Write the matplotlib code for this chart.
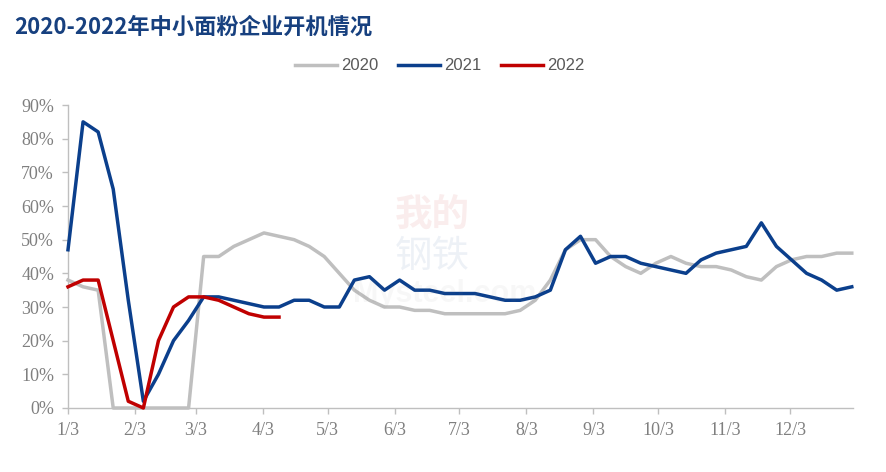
import matplotlib
matplotlib.use("Agg")
import matplotlib.pyplot as plt
import numpy as np

# Weekly data (percent)
values_2020 = [38, 36, 35, 0, 0, 0, 0, 0, 0, 45, 45, 48, 50, 52, 51, 50, 48, 45, 40, 35,
               32, 30, 30, 29, 29, 28, 28, 28, 28, 28, 29, 32, 38, 47, 50, 50, 45, 42, 40, 43,
               45, 43, 42, 42, 41, 39, 38, 42, 44, 45, 45, 46, 46]
values_2021 = [47, 85, 82, 65, 32, 2, 10, 20, 26, 33, 33, 32, 31, 30, 30, 32, 32, 30, 30, 38,
               39, 35, 38, 35, 35, 34, 34, 34, 33, 32, 32, 33, 35, 47, 51, 43, 45, 45, 43, 42,
               41, 40, 44, 46, 47, 48, 55, 48, 44, 40, 38, 35, 36]
values_2022 = [36, 38, 38, 20, 2, 0, 20, 30, 33, 33, 32, 30, 28, 27, 27]

series_names = ["2020", "2021", "2022"]
tick_labels = ["1/3", "2/3", "3/3", "4/3", "5/3", "6/3", "7/3", "8/3", "9/3", "10/3", "11/3", "12/3"]
tick_days = [0, 31, 59, 90, 120, 151, 181, 212, 243, 273, 304, 334]
y_ticks = list(range(0, 91, 10))

colors = ["#BFBFBF", "#0B3F8C", "#C00000"]
title = "2020-2022年中小面粉企业开机情况"

fig = plt.figure(figsize=(8.86, 4.72), dpi=100)
ax = fig.add_axes([68/886, 1-408/472, (853-68)/886, (408-105)/472])

for name, vals, c in zip(series_names, [values_2020, values_2021, values_2022], colors):
    x = np.arange(len(vals)) * 6.97
    ax.plot(x, vals, color=c, lw=2.5, label=name, clip_on=False,
            zorder=3 if name != "2020" else 2)

ax.set_xlim(0, 363)
ax.set_ylim(0, 90)
ax.set_yticks(y_ticks)
ax.set_yticklabels([f"{v}%" for v in y_ticks])
ax.set_xticks(tick_days)
ax.set_xticklabels(tick_labels)

for s in ["top", "right"]:
    ax.spines[s].set_visible(False)
for s in ["left", "bottom"]:
    ax.spines[s].set_color("#BFBFBF")
    ax.spines[s].set_linewidth(1.0)

ax.tick_params(axis="both", colors="#BFBFBF", labelcolor="#7F7F7F", length=4, width=1.0,
               labelsize=13)
ax.tick_params(axis="y", pad=6)
ax.tick_params(axis="x", pad=6)
for lab in ax.get_xticklabels() + ax.get_yticklabels():
    lab.set_family("Liberation Serif")

# watermark
fig.text(432/886, 1-214/472, "我的", fontsize=27, color="#C00000", alpha=0.07,
         ha="center", va="center", family="Noto Sans CJK SC", fontweight="bold")
fig.text(432/886, 1-256/472, "钢铁", fontsize=27, color="#0B3F8C", alpha=0.07,
         ha="center", va="center", family="Noto Sans CJK SC")
fig.text(445/886, 1-294/472, "Mysteel.com", fontsize=22, color="#808080", alpha=0.06,
         ha="center", va="center", family="Liberation Sans", fontweight="bold")

fig.text(14/886, 1-27/472, title, fontsize=16, fontweight="bold", color="#17407F",
         ha="left", va="center", family=["Noto Sans CJK SC", "DejaVu Sans"])

leg = fig.legend(loc="center", bbox_to_anchor=(440/886, 1-66/472), ncol=3, frameon=False,
                 handlelength=2.5, handletextpad=0.25, columnspacing=1.2,
                 prop={"family": "Liberation Sans", "size": 12})
for t in leg.get_texts():
    t.set_color("#595959")

fig.savefig("out.png", dpi=100)
